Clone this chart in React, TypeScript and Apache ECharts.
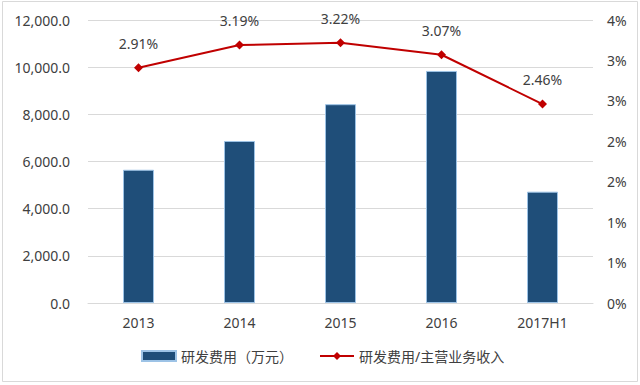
import React, { useEffect, useRef } from "react";
import * as echarts from "echarts";

const categories = ["2013", "2014", "2015", "2016", "2017H1"];
const rdExpense = [5650, 6870, 8430, 9840, 4720];
const rdRatio = [2.91, 3.19, 3.22, 3.07, 2.46];
const barName = "研发费用（万元）";
const lineName = "研发费用/主营业务收入";

const FONT = "'Noto Sans', 'Noto Sans CJK SC', sans-serif";

export default function App() {
  const ref = useRef<HTMLDivElement>(null);
  useEffect(() => {
    if (!ref.current) return;
    const chart = echarts.init(ref.current, null, { renderer: "svg" });
    chart.setOption({
      animation: false,
      backgroundColor: "#ffffff",
      textStyle: { fontFamily: FONT },
      graphic: [
        {
          type: "rect",
          shape: { x: 2.5, y: 1.5, width: 635, height: 380 },
          style: { fill: "none", stroke: "#d9d9d9", lineWidth: 1 },
          silent: true,
        },
      ],
      grid: { left: 88, right: 47, top: 20, bottom: 82, containLabel: false },
      legend: {
        bottom: 17,
        left: 136,
        itemWidth: 34,
        itemHeight: 10,
        itemGap: 26,
        textStyle: { fontSize: 14, color: "#404040", fontFamily: FONT },
        data: [
          { name: barName, icon: "rect" },
          { name: lineName },
        ],
      },
      xAxis: {
        type: "category",
        data: categories,
        axisLine: { lineStyle: { color: "#d9d9d9" } },
        axisTick: { show: false },
        axisLabel: { color: "#404040", fontSize: 14, margin: 12 },
      },
      yAxis: [
        {
          type: "value",
          min: 0,
          max: 12000,
          interval: 2000,
          axisLine: { show: false },
          axisTick: { show: false },
          splitLine: { lineStyle: { color: "#d9d9d9" } },
          axisLabel: {
            color: "#404040",
            fontSize: 14,
            margin: 18,
            formatter: (v: number) =>
              v.toLocaleString("en-US", { minimumFractionDigits: 1, maximumFractionDigits: 1 }),
          },
        },
        {
          type: "value",
          min: 0,
          max: 3.5,
          interval: 0.5,
          axisLine: { show: false },
          axisTick: { show: false },
          splitLine: { show: false },
          axisLabel: {
            color: "#404040",
            fontSize: 14,
            margin: 14,
            formatter: (v: number) => Math.round(v + 1e-9) + "%",
          },
        },
      ],
      series: [
        {
          name: barName,
          type: "bar",
          data: rdExpense,
          barWidth: 31,
          itemStyle: { color: "#1f4e79", borderColor: "#9dc3e6", borderWidth: 1 },
        },
        {
          name: lineName,
          type: "line",
          yAxisIndex: 1,
          data: rdRatio,
          symbol: "diamond",
          symbolSize: 9,
          lineStyle: { color: "#c00000", width: 2 },
          itemStyle: { color: "#c00000" },
          label: {
            show: true,
            position: "top",
            distance: 13,
            color: "#404040",
            fontSize: 14,
            formatter: (p: any) => p.value.toFixed(2) + "%",
          },
        },
      ],
    });
    return () => chart.dispose();
  }, []);
  return (
    <div
      ref={ref}
      style={{ position: "absolute", left: 0, top: 0, width: 640, height: 385 }}
    />
  );
}
